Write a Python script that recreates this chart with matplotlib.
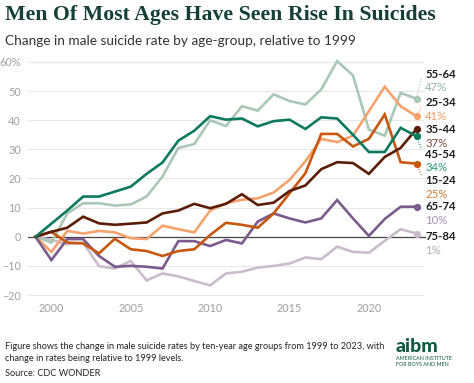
import matplotlib
matplotlib.use("Agg")
import matplotlib.pyplot as plt

years = list(range(1999, 2024))

groups = ["55-64", "25-34", "35-44", "45-54", "15-24", "65-74", "75-84"]
colors = {
    "55-64": "#a9c8b6",
    "25-34": "#f4a36e",
    "35-44": "#5b1d06",
    "45-54": "#0d7a5f",
    "15-24": "#c8570f",
    "65-74": "#7b5b8c",
    "75-84": "#cbbccd",
}
pct_colors = {
    "55-64": "#8fb3a0",
    "25-34": "#ec9a64",
    "35-44": "#7a4a35",
    "45-54": "#2a9a7a",
    "15-24": "#d07a3a",
    "65-74": "#a38fb3",
    "75-84": "#b3a9b8",
}

s_55_64 = [0, -2, 8, 11.5, 11.5, 10.7, 11.1, 13.8, 20.7, 30.5, 31.8, 40, 38, 44.8,
           43.3, 48.9, 46.6, 45.4, 50.6, 60.3, 55.4, 36.8, 34.7, 49.4, 47.4]
s_25_34 = [0, -5.2, 2, 1.1, 2, 1.5, -0.5, -0.8, 3.8, 2.6, 1.5, 9, 11.5, 12.7,
           13.2, 15.2, 19.5, 25.9, 33.6, 32.5, 34.7, 43.1, 51.5, 44.8, 41.4]
s_35_44 = [0, 1.7, 3.1, 6.9, 4.6, 4.1, 4.5, 4.9, 8, 9, 11.3, 9.8, 11.3, 14.6,
           10.9, 11.7, 15.7, 17.6, 23.2, 25.6, 25.3, 21.6, 27.4, 30.5, 37]
s_45_54 = [0, 4.5, 9, 13.8, 13.8, 15.5, 17.2, 21.6, 25.5, 33, 36.4, 41.4, 40.2, 40.6,
           37.9, 39.7, 40.2, 37, 41, 40.6, 35, 29.1, 29.1, 37.4, 34.5]
s_15_24 = [0, 1.7, -2, -2.3, -5.7, -0.7, -4.3, -4.9, -6.6, -4.9, -4.3, 0.6, 4.8, 4.1,
           3.1, 8, 14.9, 21.8, 35.3, 35.3, 31, 33.6, 42, 25.6, 25.1]
s_65_74 = [0, -8, -0.8, -0.8, -6.6, -10.3, -10, -10.3, -10.9, -1.5, -1.5, -3.2, -1.1, -2.3,
           5.2, 8, 6.3, 4.9, 6.3, 12.6, 6.3, 0.3, 6.1, 10.3, 10.3]
s_75_84 = [0, -1.1, -2.6, -2, -10.1, -10.9, -8.3, -15, -12.6, -13.6, -15.2, -16.7, -12.6, -12,
           -10.6, -10, -9.2, -7.1, -7.7, -3.4, -5.2, -5.5, -1.4, 2.6, 1.1]

series = {
    "55-64": s_55_64, "25-34": s_25_34, "35-44": s_35_44, "45-54": s_45_54,
    "15-24": s_15_24, "65-74": s_65_74, "75-84": s_75_84,
}
end_pcts = {"55-64": "47%", "25-34": "41%", "35-44": "37%", "45-54": "34%",
            "15-24": "25%", "65-74": "10%", "75-84": "1%"}
label_y = {"55-64": 55.8, "25-34": 46.0, "35-44": 36.8, "45-54": 28.4,
           "15-24": 19.3, "65-74": 10.3, "75-84": 0.0}

yticks = [-20, -10, 0, 10, 20, 30, 40, 50, 60]
ytick_labels = ["\u221220", "\u221210", "0", "10", "20", "30", "40", "50", "60%"]
xticks = [2000, 2005, 2010, 2015, 2020]

W, H = 474, 383
fig = plt.figure(figsize=(W / 100, H / 100), dpi=100)
fig.patch.set_facecolor("white")

left_px, right_px = 28, 423
ppy = (416.5 - 35.5) / 24
x0 = 1999 - (35.5 - left_px) / ppy
x1 = 2023 + (right_px - 416.5) / ppy
top_px, bot_px = 62.0, 295.0
ax = fig.add_axes([left_px / W, 1 - bot_px / H, (right_px - left_px) / W, (bot_px - top_px) / H])
ax.set_xlim(x0, x1)
ax.set_ylim(-20, 60)
for sp in ax.spines.values():
    sp.set_visible(False)

for yt in yticks:
    if yt != 0:
        ax.axhline(yt, color="#e8e8e8", lw=0.8, zorder=0, clip_on=False)
ax.plot([x0, 2023.55], [0, 0], color="#444444", lw=0.9, zorder=1, clip_on=False)

ax.set_yticks(yticks)
ax.set_yticklabels(ytick_labels)
ax.set_xticks(xticks)
ax.tick_params(axis="both", length=0, labelsize=7.8, labelcolor="#a0a0a0")
ax.tick_params(axis="y", pad=5)
ax.tick_params(axis="x", pad=6)
for lbl in ax.get_xticklabels() + ax.get_yticklabels():
    lbl.set_fontfamily("Lato")

draw_order = ["75-84", "55-64", "25-34", "65-74", "15-24", "35-44", "45-54"]
for i, g in enumerate(draw_order):
    ax.plot(years, series[g], color=colors[g], lw=1.9, zorder=3 + i,
            solid_joinstyle="miter", clip_on=False)
    ax.plot([years[-1]], [series[g][-1]], "o", color=colors[g], ms=4.2, zorder=3 + i,
            clip_on=False)

lx = 2023.55
for g in groups:
    ye = series[g][-1]
    ly = label_y[g]
    if abs(ly - ye) > 3:
        target = ly - 1.5 if ly > ye else ly + 2.0
        ax.plot([2023, 2023.3], [ye, target], color=colors[g], lw=0.8,
                ls=(0, (1, 1.5)), clip_on=False, zorder=2)
    ax.text(lx, ly, g, fontsize=8.2, fontweight="bold", color="#1e1e1e",
            fontfamily="Lato", va="center", ha="left", clip_on=False)
    ax.text(lx, ly - 4.7, end_pcts[g], fontsize=8.2, color=pct_colors[g],
            fontfamily="Lato", va="center", ha="left", clip_on=False)

fig.text(5 / W, 1 - 15 / H, "Men Of Most Ages Have Seen Rise In Suicides",
         fontsize=15.7, fontweight="bold", fontfamily="Liberation Serif",
         color="#163f3a", va="center", ha="left")
fig.text(5 / W, 1 - 41 / H, "Change in male suicide rate by age-group, relative to 1999",
         fontsize=9.8, fontfamily="Lato", color="#333333", va="center", ha="left")

foot_fs = 6.6
fig.text(5 / W, 1 - 346.5 / H,
         "Figure shows the change in male suicide rates by ten-year age groups from 1999 to 2023, with",
         fontsize=foot_fs, fontfamily="Lato", color="#222222", va="center", ha="left")
fig.text(5 / W, 1 - 358.5 / H, "change in rates being relative to 1999 levels.",
         fontsize=foot_fs, fontfamily="Lato", color="#222222", va="center", ha="left")
fig.text(5 / W, 1 - 373.5 / H, "Source: CDC WONDER",
         fontsize=foot_fs, fontfamily="Lato", color="#222222", va="center", ha="left")

fig.text(396 / W, 1 - 346 / H, "aibm", fontsize=14, fontweight="black",
         fontfamily="Lato", color="#0f5a43", va="center", ha="left")
fig.text(396 / W, 1 - 358.5 / H, "AMERICAN INSTITUTE", fontsize=3.9,
         fontfamily="Lato", color="#0f5a43", va="center", ha="left")
fig.text(396 / W, 1 - 365 / H, "FOR BOYS AND MEN", fontsize=3.9,
         fontfamily="Lato", color="#0f5a43", va="center", ha="left")

fig.savefig("out.png", dpi=100, facecolor="white")
